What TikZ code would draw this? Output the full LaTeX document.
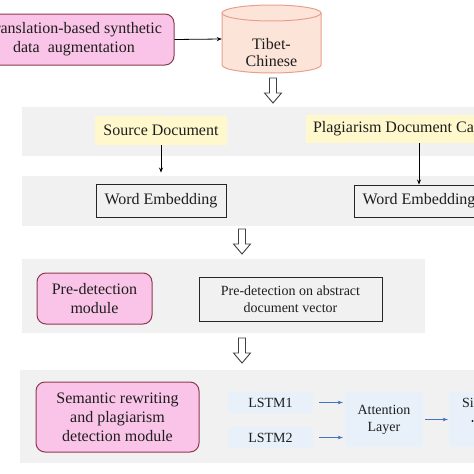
\documentclass[tikz,border=0pt]{standalone}
\usepackage{fontspec}
\setmainfont{Liberation Serif}
\usetikzlibrary{arrows.meta,calc}
\definecolor{pinkfill}{RGB}{250,196,232}
\definecolor{pinkdraw}{RGB}{140,58,80}
\definecolor{cylfill}{RGB}{253,228,216}
\definecolor{cyldraw}{RGB}{232,160,140}
\definecolor{band}{RGB}{241,241,241}
\definecolor{hl}{RGB}{255,248,205}
\definecolor{lblue}{RGB}{232,241,250}
\definecolor{arrblue}{RGB}{68,114,196}
\definecolor{txt}{RGB}{30,30,30}
\begin{document}
\begin{tikzpicture}[x=1pt,y=-1pt,
  f16/.style={font=\fontsize{16}{19}\selectfont},
  f14/.style={font=\fontsize{14}{17}\selectfont},
  pinkbox/.style={draw=pinkdraw, fill=pinkfill, line width=1pt, rounded corners=9pt, align=center, inner sep=0pt, f16, text=txt},
  plainbox/.style={draw=black!85, line width=0.9pt, align=center, inner sep=0pt, text=txt},
  hlbox/.style={fill=hl, inner sep=0pt, f16, text=txt},
  bluebox/.style={fill=lblue, inner sep=0pt, f14, align=center, text=txt},
  bandbox/.style={fill=band, draw=none},
  arr/.style={-{Stealth[length=5pt,width=4pt]}, line width=0.8pt, black},
  barr/.style={-{Stealth[length=5pt,width=3.5pt]}, line width=1pt, arrblue},
  hollow/.pic={\draw[line width=0.9pt, draw=black!75, fill=white] (-3.5,0) -- (3.5,0) -- (3.5,15) -- (8.5,15) -- (0,25) -- (-8.5,15) -- (-3.5,15) -- cycle;}
]
\useasboundingbox (0,0) rectangle (474,474);
\clip (0,0) rectangle (474,474);
\fill[white] (0,0) rectangle (474,474);
% bands
\path[bandbox] (22,107) rectangle (480,156);
\path[bandbox] (22,176) rectangle (480,226);
\path[bandbox] (22,259) rectangle (425,333);
\path[bandbox] (20,370) rectangle (480,463);
% top row
\node[pinkbox, minimum width=200pt, minimum height=51pt] (trans) at (74,39.5) {Translation-based synthetic\\data\ \ augmentation};
\node[minimum width=99pt, minimum height=68pt, inner sep=0pt] (db) at (271.5,39) {};
\path[fill=cylfill, draw=cyldraw, line width=1pt] (222,13) -- (222,65) arc[start angle=180,end angle=360,x radius=49.5pt,y radius=8pt] -- (321,13) arc[start angle=0,end angle=180,x radius=49.5pt,y radius=8pt] -- cycle;
\draw[cyldraw, line width=1pt] (222,13) arc[start angle=180,end angle=360,x radius=49.5pt,y radius=8pt];
\node[f16, align=center, inner sep=0pt, text=txt, font=\fontsize{16}{17}\selectfont] (dbtxt) at (271.5,53) {Tibet-\\Chinese};
\draw[arr] (trans.east) -- (db.west);
\pic at (273,78) {hollow};
% documents
\node[hlbox, minimum width=132pt, minimum height=29pt] (src) at (161,130.5) {Source Document};
\node[hlbox, minimum width=222pt, minimum height=28pt] (plag) at (417,129) {Plagiarism Document Candidate};
\node[plainbox, f16, minimum width=130pt, minimum height=33pt] (we1) at (161,200.5) {Word Embedding};
\node[plainbox, f16, minimum width=130pt, minimum height=32pt] (we2) at (419,201) {Word Embedding};
\draw[arr, shorten >=11pt] (src.south) -- (we1.north);
\draw[arr] (we2.north |- plag.south) -- (we2.north);
\pic at (242,229) {hollow};
% pre-detection
\node[pinkbox, minimum width=115pt, minimum height=51pt] (pre) at (94.5,298.5) {Pre-detection\\module};
\node[plainbox, f14, minimum width=183pt, minimum height=44pt] (abs) at (290.5,299) {Pre-detection on abstract\\document vector};
\pic at (242,338) {hollow};
% semantic
\node[pinkbox, minimum width=163pt, minimum height=70pt] (sem) at (117.5,417) {Semantic rewriting\\and plagiarism\\detection module};
\node[bluebox, minimum width=85pt, minimum height=21pt] (l1) at (270.5,402.5) {LSTM1};
\node[bluebox, minimum width=85pt, minimum height=21pt] (l2) at (270.5,437.5) {LSTM2};
\node[bluebox, minimum width=78pt, minimum height=55pt] (att) at (384,419.5) {Attention\\Layer};
\node[fill=lblue, minimum width=80pt, minimum height=55pt, inner sep=0pt] (sim) at (489,419.5) {};
\node[f14, anchor=base west, inner sep=0pt, text=txt] (simtxt) at (462,407) {Similarity};
\fill[txt] (472.5,421) circle (1.1pt);
\draw[barr] ([xshift=6pt]l1.east) -- ([xshift=-2pt]l1.east -| att.west);
\draw[barr] ([xshift=6pt]l2.east) -- ([xshift=-2pt]l2.east -| att.west);
\draw[barr] ([xshift=2pt]att.east) -- ([xshift=-1pt]sim.west);
\end{tikzpicture}
\end{document}
